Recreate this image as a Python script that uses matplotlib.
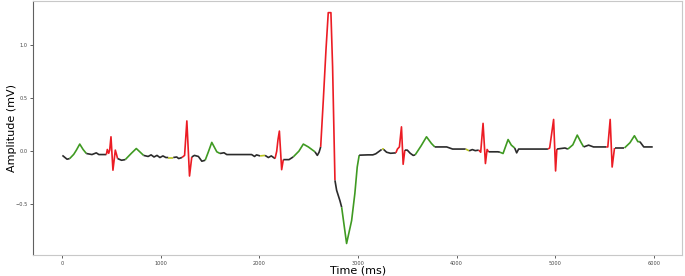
#!/usr/bin/env python3
"""ECG trace (~6 s) coloured by wave segment: P/T green, QRS red, baseline black."""

import bisect

import matplotlib
matplotlib.use("Agg")
import matplotlib.pyplot as plt

t_ms = [
    0, 47, 74, 115, 142, 176, 210, 243, 300, 344, 370, 446,
    456, 470, 480, 493, 513, 537, 549, 560, 600, 638,
    700, 750, 790, 824, 870, 900, 930, 960, 990, 1020, 1050, 1074, 1125, 1160, 1180,
    1213, 1240, 1263, 1290, 1313, 1340, 1380, 1415, 1449,
    1480, 1516, 1567, 1600, 1640, 1668, 1920, 1950, 1970, 2006, 2057, 2090, 2120, 2158,
    2175, 2188, 2202, 2225, 2242, 2300, 2343,
    2400, 2445, 2496, 2563, 2587, 2605, 2621, 2648, 2675, 2698, 2725, 2742, 2756, 2766,
    2783, 2817, 2834, 2884, 2935, 2968, 2992, 3012,
    3100, 3150, 3180, 3240, 3260, 3290, 3330, 3384,
    3400, 3420, 3441, 3458, 3475, 3500, 3530, 3560, 3580,
    3640, 3695, 3745, 3779, 3900, 3960, 4093, 4128, 4160, 4190, 4225,
    4245, 4269, 4293, 4310, 4325, 4420, 4440, 4472, 4523, 4556, 4590,
    4610, 4630, 4670, 4927, 4945, 4985, 5005, 5018,
    5100, 5130, 5180, 5225, 5265, 5290, 5340, 5390, 5440, 5518,
    5535, 5559, 5579, 5603, 5680, 5704, 5760, 5805, 5840, 5860, 5900, 5960, 5991,
]
amp_mv = [
    -0.04, -0.076, -0.07, -0.03, 0.01, 0.067, 0.016, -0.022, -0.032, -0.016, -0.032, -0.032,
    0.016, -0.02, 0.01, 0.136, -0.18, 0.01, -0.03, -0.07, -0.086, -0.08,
    -0.02, 0.025, -0.01, -0.04, -0.05, -0.035, -0.055, -0.04, -0.06, -0.045, -0.06, -0.06, -0.06, -0.055, -0.07,
    -0.06, -0.04, 0.286, -0.235, -0.055, -0.04, -0.05, -0.095, -0.086,
    -0.01, 0.083, -0.006, -0.022, -0.015, -0.032, -0.032, -0.05, -0.035, -0.045, -0.04, -0.06, -0.045, -0.07,
    0.0, 0.11, 0.19, -0.175, -0.08, -0.08, -0.054,
    0.0, 0.067, 0.04, -0.006, -0.04, -0.01, 0.04, 0.486, 0.96, 1.31, 1.31, 0.80, 0.17, -0.276,
    -0.37, -0.47, -0.53, -0.873, -0.657, -0.40, -0.15, -0.038,
    -0.035, -0.035, -0.025, 0.016, 0.016, -0.01, -0.02, -0.016,
    0.02, 0.04, 0.23, -0.124, 0.01, 0.01, -0.02, -0.04, -0.035,
    0.05, 0.136, 0.073, 0.04, 0.04, 0.02, 0.02, 0.003, 0.015, 0.005, 0.01,
    -0.01, 0.263, -0.117, 0.016, -0.006, -0.006, -0.01, -0.022, 0.11, 0.057, 0.03,
    -0.016, 0.02, 0.02, 0.02, 0.03, 0.30, -0.187, 0.02,
    0.03, 0.02, 0.06, 0.152, 0.08, 0.04, 0.057, 0.04, 0.04, 0.04,
    0.04, 0.30, -0.15, 0.03, 0.03, 0.03, 0.08, 0.146, 0.09, 0.09, 0.04, 0.04, 0.04,
]

# wave segmentation: each label holds from its start time up to the next one
seg_start_ms = [
    0, 74, 243, 446, 560, 638, 824, 1074, 1125, 1213, 1313, 1449, 1600,
    2006, 2057, 2158, 2242, 2343, 2563, 2621, 2766, 2834, 3012,
    3240, 3260, 3384, 3475, 3580, 3779, 4093, 4128, 4225, 4325, 4440, 4590,
    4927, 5018, 5130, 5290, 5518, 5603, 5704, 5860,
]
seg_label = [
    "N", "P", "N", "QRS", "N", "T", "N", "X", "N", "QRS", "N", "P", "N",
    "X", "N", "QRS", "N", "T", "N", "QRS", "N", "T", "N",
    "X", "N", "QRS", "N", "T", "N", "X", "N", "QRS", "N", "T", "N",
    "QRS", "N", "T", "N", "QRS", "N", "T", "N",
]

COLOURS = {"N": "#2b2b2b", "P": "#3f9a22", "T": "#3f9a22", "QRS": "#ec1c24", "X": "#b8c41e"}

n = min(len(t_ms), len(amp_mv))
labels = [seg_label[bisect.bisect_right(seg_start_ms, t) - 1] for t in t_ms[:n]]

fig = plt.figure(figsize=(6.85, 2.76), dpi=100)
ax = fig.add_axes([0.048, 0.076, 0.948, 0.920])

start = 0
for i in range(1, n + 1):
    if i == n or labels[i] != labels[start]:
        end = min(i + 1, n)
        ax.plot(t_ms[start:end], amp_mv[start:end], color=COLOURS[labels[start]],
                lw=1.2, solid_capstyle="butt")
        start = i

ax.set_xticks([0, 1000, 2000, 3000, 4000, 5000, 6000])
ax.set_yticks([-0.5, 0.0, 0.5, 1.0])
ax.tick_params(labelsize=3.6, length=2, width=0.6, colors="#444444", pad=2)
ax.set_xlabel("Time (ms)", fontsize=8, labelpad=0)
ax.set_ylabel("Amplitude (mV)", fontsize=8)
ax.yaxis.set_label_coords(-0.024, 0.5)
for side in ("top", "right", "bottom"):
    ax.spines[side].set_color("#c8c8c8")
ax.spines["left"].set_color("#606060")

fig.savefig("out.png", dpi=100)
